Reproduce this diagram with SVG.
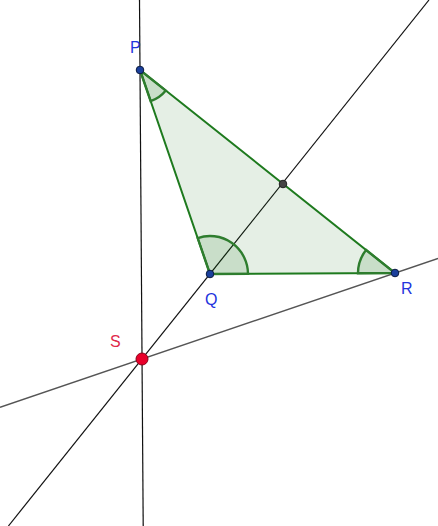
<svg xmlns="http://www.w3.org/2000/svg" width="438" height="526" viewBox="0 0 438 526">
<style>
.ln{stroke:#111;stroke-width:1.2;fill:none}
.gl{stroke:#555;stroke-width:1.4;fill:none}
.tri{fill:#006400;fill-opacity:0.1;stroke:#1e7a1e;stroke-width:2;stroke-linejoin:round}
.ang{fill:#006400;fill-opacity:0.12;stroke:#2e7d2e;stroke-width:2.4}
.pt{fill:#1a3f9c;stroke:#0a1a40;stroke-width:1}
.lb{font-family:"Liberation Sans",Arial,sans-serif;font-size:16px;fill:#2233dd}
</style>
<rect width="438" height="526" fill="#fff"/>
<g id="connectors">
<line class="ln" x1="139.5" y1="0" x2="143.2" y2="526"/>
<line class="ln" x1="429" y1="0" x2="8.4" y2="526"/>
<line class="gl" x1="0" y1="407.3" x2="438" y2="258.4"/>
</g>
<g id="triangle">
<polygon class="tri" points="140,70 210,274 395,273"/>
<path class="ang" d="M140,70 L150.7,101.2 A33,33 0 0 0 165.8,90.6 Z"/>
<path class="ang" d="M210,274 L197.7,238.1 A38,38 0 0 1 248,273.8 Z"/>
<path class="ang" d="M395,273 L358,273.2 A37,37 0 0 1 366.1,250 Z"/>
</g>
<g id="X"><circle cx="283" cy="184" r="3.8" fill="#444" stroke="#222" stroke-width="1"/></g>
<g id="P"><circle class="pt" cx="140" cy="70" r="3.8"/><text class="lb" x="130" y="53">P</text></g>
<g id="Q"><circle class="pt" cx="210" cy="274" r="3.8"/><text class="lb" x="205" y="305">Q</text></g>
<g id="R"><circle class="pt" cx="395" cy="273" r="3.8"/><text class="lb" x="401" y="294">R</text></g>
<g id="S"><circle cx="142" cy="359" r="6" fill="#e8002a" stroke="#8a0018" stroke-width="1"/><text x="110" y="347" style="font-family:'Liberation Sans',Arial,sans-serif;font-size:16px;fill:#e0284a">S</text></g>
</svg>
